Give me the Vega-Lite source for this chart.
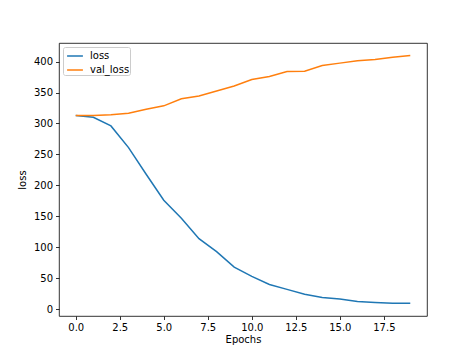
{
  "$schema": "https://vega.github.io/schema/vega-lite/v6.json",
  "autosize": "none",
  "width": 368,
  "height": 273,
  "padding": {"left": 59, "top": 43, "right": 47, "bottom": 39},
  "background": "white",
  "config": {
    "font": "DejaVu Sans",
    "view": {"stroke": "#000000", "strokeWidth": 0.8},
    "axis": {"grid": false, "domain": false, "tickColor": "#000000", "tickSize": 3.5, "tickWidth": 0.8, "labelFontSize": 10, "labelColor": "#000000", "titleFontSize": 10, "titleFontWeight": "normal", "titleColor": "#000000", "labelPadding": 3}
  },
  "data": {"values": [
    {"epoch": 0, "series": "loss", "value": 313},
    {"epoch": 1, "series": "loss", "value": 310},
    {"epoch": 2, "series": "loss", "value": 296},
    {"epoch": 3, "series": "loss", "value": 261},
    {"epoch": 4, "series": "loss", "value": 218},
    {"epoch": 5, "series": "loss", "value": 176},
    {"epoch": 6, "series": "loss", "value": 147},
    {"epoch": 7, "series": "loss", "value": 114},
    {"epoch": 8, "series": "loss", "value": 93},
    {"epoch": 9, "series": "loss", "value": 68},
    {"epoch": 10, "series": "loss", "value": 53},
    {"epoch": 11, "series": "loss", "value": 40},
    {"epoch": 12, "series": "loss", "value": 32},
    {"epoch": 13, "series": "loss", "value": 24},
    {"epoch": 14, "series": "loss", "value": 19},
    {"epoch": 15, "series": "loss", "value": 16.5},
    {"epoch": 16, "series": "loss", "value": 12.5},
    {"epoch": 17, "series": "loss", "value": 11},
    {"epoch": 18, "series": "loss", "value": 9.5},
    {"epoch": 19, "series": "loss", "value": 9.5},
    {"epoch": 0, "series": "val_loss", "value": 313},
    {"epoch": 1, "series": "val_loss", "value": 313},
    {"epoch": 2, "series": "val_loss", "value": 314},
    {"epoch": 3, "series": "val_loss", "value": 316.5},
    {"epoch": 4, "series": "val_loss", "value": 323},
    {"epoch": 5, "series": "val_loss", "value": 328.5},
    {"epoch": 6, "series": "val_loss", "value": 340},
    {"epoch": 7, "series": "val_loss", "value": 344.5},
    {"epoch": 8, "series": "val_loss", "value": 352.5},
    {"epoch": 9, "series": "val_loss", "value": 360.5},
    {"epoch": 10, "series": "val_loss", "value": 371},
    {"epoch": 11, "series": "val_loss", "value": 376},
    {"epoch": 12, "series": "val_loss", "value": 384},
    {"epoch": 13, "series": "val_loss", "value": 384.5},
    {"epoch": 14, "series": "val_loss", "value": 393.5},
    {"epoch": 15, "series": "val_loss", "value": 397.5},
    {"epoch": 16, "series": "val_loss", "value": 401.5},
    {"epoch": 17, "series": "val_loss", "value": 403.5},
    {"epoch": 18, "series": "val_loss", "value": 407},
    {"epoch": 19, "series": "val_loss", "value": 410}
  ]},
  "mark": {"type": "line", "strokeWidth": 1.5, "clip": true},
  "encoding": {
    "x": {"field": "epoch", "type": "quantitative", "title": "Epochs",
      "scale": {"domain": [-0.95, 19.95], "nice": false, "zero": false},
      "axis": {"values": [0, 2.5, 5, 7.5, 10, 12.5, 15, 17.5], "format": ".1f", "titlePadding": 2}},
    "y": {"field": "value", "type": "quantitative", "title": "loss",
      "scale": {"domain": [-11, 430], "nice": false, "zero": false},
      "axis": {"values": [0, 50, 100, 150, 200, 250, 300, 350, 400], "titlePadding": 6}},
    "color": {"field": "series", "type": "nominal",
      "scale": {"domain": ["loss", "val_loss"], "range": ["#1f77b4", "#ff7f0e"]},
      "legend": {"title": null, "orient": "top-left", "offset": 4, "symbolType": "stroke", "symbolSize": 250, "symbolStrokeWidth": 1.5, "symbolOffset": 3, "labelFontSize": 10, "labelColor": "#000000", "strokeColor": "#cccccc", "padding": 0, "cornerRadius": 2, "fillColor": "white", "rowPadding": -4, "labelOffset": 6}}
  }
}
